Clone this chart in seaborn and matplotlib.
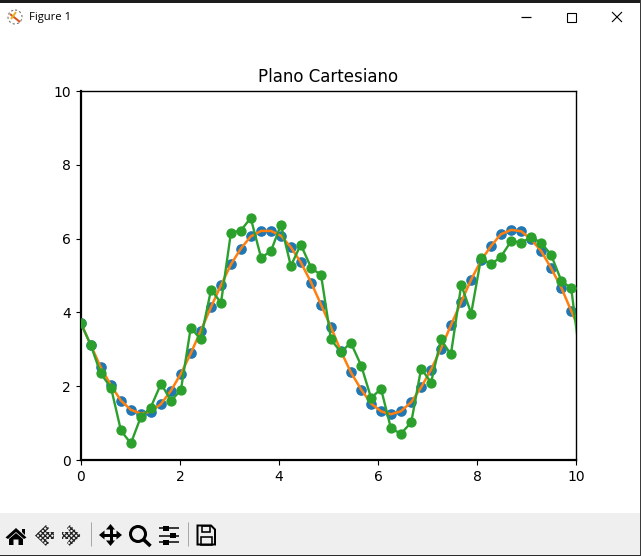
# libraries
import matplotlib
matplotlib.use("Agg")
import matplotlib.pyplot as plt
import matplotlib.patches as mp
import seaborn as sns
import pandas as pd

x_vals = [0.00, 0.20, 0.40, 0.61, 0.81, 1.01, 1.21, 1.41, 1.62, 1.82,
          2.02, 2.22, 2.42, 2.63, 2.83, 3.03, 3.23, 3.43, 3.64, 3.84,
          4.04, 4.24, 4.44, 4.65, 4.85, 5.05, 5.25, 5.45, 5.66, 5.86,
          6.06, 6.26, 6.46, 6.67, 6.87, 7.07, 7.27, 7.47, 7.68, 7.88,
          8.08, 8.28, 8.48, 8.69, 8.89, 9.09, 9.29, 9.49, 9.70, 9.90,
          10.14]
curve_vals = [3.72, 3.12, 2.52, 2.02, 1.61, 1.36, 1.26, 1.31, 1.52, 1.88,
              2.34, 2.89, 3.50, 4.15, 4.74, 5.30, 5.73, 6.06, 6.21, 6.21,
              6.08, 5.77, 5.36, 4.81, 4.21, 3.60, 2.95, 2.38, 1.91, 1.53,
              1.32, 1.24, 1.32, 1.57, 1.97, 2.45, 3.02, 3.65, 4.29, 4.89,
              5.41, 5.80, 6.12, 6.24, 6.20, 5.98, 5.67, 5.21, 4.67, 4.04,
              3.30]
noisy_vals = [3.71, 3.12, 2.35, 1.96, 0.80, 0.45, 1.16, 1.42, 2.07, 1.61,
              1.89, 3.59, 3.27, 4.62, 4.26, 6.16, 6.22, 6.56, 5.48, 5.67,
              6.38, 5.26, 5.84, 5.21, 5.01, 3.27, 2.92, 3.18, 2.56, 1.68,
              1.93, 0.86, 0.71, 1.02, 2.48, 2.10, 3.27, 2.86, 4.75, 3.97,
              5.48, 5.30, 5.51, 5.94, 5.89, 6.04, 5.89, 5.57, 4.86, 4.65,
              2.10]
title_text = "Plano Cartesiano"
window_text = "Figure 1"

sns.set_style("ticks")
plt.rcParams["font.family"] = ["DejaVu Sans"]
plt.rcParams["text.color"] = "black"
plt.rcParams["xtick.color"] = "black"
plt.rcParams["ytick.color"] = "black"
plt.rcParams["axes.edgecolor"] = "black"
plt.rcParams["hatch.linewidth"] = 0.9

W, H = 641, 556
fig = plt.figure(figsize=(W / 100, H / 100), dpi=100, facecolor="white")

# window chrome, in pixel coordinates
win = fig.add_axes([0, 0, 1, 1], zorder=0)
win.set_xlim(0, W)
win.set_ylim(H, 0)
win.axis("off")
px = 0.72  # one pixel in points


def box(x0, y0, x1, y1, **kw):
    win.add_patch(mp.Rectangle((x0, y0), x1 - x0, y1 - y0, linewidth=kw.pop("lw", 0), **kw))


def poly(pts, color="black", **kw):
    win.add_patch(mp.Polygon(pts, closed=True, facecolor=color, edgecolor="none", **kw))


def seg(xs, ys, lw=1, color="black", **kw):
    win.plot(xs, ys, color=color, linewidth=lw * px, solid_capstyle="butt", **kw)


box(0, 513, W, 555, facecolor="#efefef")
box(0, 0, W, 3, facecolor="#1c1c1c")
box(0, 555, W, H, facecolor="#2b2b2b")
box(640, 0, W, H, facecolor="#3a3a3a")

# title bar
win.add_patch(mp.Circle((15, 17), 7, fill=False, edgecolor="#777777", linewidth=0.8, linestyle=(0, (2, 2))))
seg([10, 20], [14, 22], lw=2, color="#d9541e")
seg([11, 16], [19, 12], lw=2, color="#e8b020")
win.text(29, 17.5, window_text, fontsize=8.1, family="Open Sans", color="black", va="center", ha="left")
seg([521, 531], [17, 17], lw=1.2)
win.add_patch(mp.Rectangle((566.5, 12.5), 9, 9, fill=False, edgecolor="black", linewidth=1.1 * px))
seg([612, 622], [12, 22], lw=1.1)
seg([612, 622], [22, 12], lw=1.1)

# toolbar icons
poly([(16, 528), (26.5, 537.5), (24, 539), (16, 532), (8, 539), (5.5, 537.5)])
poly([(9, 539), (16, 533), (23, 539), (23, 545), (18.5, 545), (18.5, 539.5), (13.5, 539.5), (13.5, 545), (9, 545)])
poly([(22, 529), (25, 529), (25, 535), (22, 532)])
# greyed arrows are dithered in the toolbar, hatch gets close to that
for pts in ([(46, 525), (49, 528), (46, 532), (54, 532), (54, 539), (46, 539), (49, 543), (46, 546), (35, 535.5)],
            [(70, 525), (67, 528), (70, 532), (62, 532), (62, 539), (70, 539), (67, 543), (70, 546), (81, 535.5)]):
    win.add_patch(mp.Polygon(pts, closed=True, facecolor="#efefef", edgecolor="#222222", linewidth=0, hatch="xxxxxxx"))
seg([90.5, 90.5], [522, 546], lw=1, color="#a8a8a8")
seg([187.5, 187.5], [522, 546], lw=1, color="#a8a8a8")
seg([103, 118], [535, 535], lw=3)
seg([110.5, 110.5], [528, 542], lw=3)
poly([(110.5, 524), (115, 529.5), (106, 529.5)])
poly([(110.5, 546), (115, 540.5), (106, 540.5)])
poly([(99, 535), (104.5, 530.5), (104.5, 539.5)])
poly([(122, 535), (116.5, 530.5), (116.5, 539.5)])
win.add_patch(mp.Circle((138, 534), 7.5, fill=False, edgecolor="black", linewidth=3 * px))
seg([143.5, 150.5], [539.5, 546], lw=3.5)
for yy, xx in zip([528, 535.5, 542], [166, 173, 166]):
    seg([159, 179], [yy, yy], lw=1.5)
    box(xx - 3, yy - 2.5, xx + 3, yy + 2.5, facecolor="black")
win.add_patch(mp.Polygon([(197.5, 525.5), (211, 525.5), (215, 529.5), (215, 544.5), (197.5, 544.5)],
                         closed=True, fill=False, edgecolor="black", linewidth=2 * px))
win.add_patch(mp.Rectangle((201.5, 526), 8, 6, fill=False, edgecolor="black", linewidth=1.6 * px))
win.add_patch(mp.Rectangle((201, 537), 10.5, 7.5, fill=False, edgecolor="black", linewidth=1.6 * px))

# plot area
df = pd.DataFrame({"x": x_vals, "curve": curve_vals, "noisy": noisy_vals})
ax = fig.add_axes([80.8 / W, (H - 460) / H, 495.4 / W, 368.9 / H], zorder=1)
ax.patch.set_alpha(0)

sns.scatterplot(data=df, x="x", y="curve", s=44, color="#1f77b4", edgecolor="#1f77b4", linewidth=1, ax=ax, zorder=2)
sns.lineplot(data=df, x="x", y="curve", color="#ff7f0e", linewidth=1.8, errorbar=None, ax=ax, zorder=3)
sns.lineplot(data=df, x="x", y="noisy", color="#2ca02c", linewidth=1.7, marker="o", markersize=6.4,
             markeredgecolor="#2ca02c", markeredgewidth=1, errorbar=None, ax=ax, zorder=4)

ax.set_xlim(0, 10)
ax.set_ylim(0, 10)
ax.set_xticks([0, 2, 4, 6, 8, 10])
ax.set_yticks([0, 2, 4, 6, 8, 10])
ax.set_xlabel("")
ax.set_ylabel("")
ax.tick_params(labelsize=10, length=3.5, width=0.8)
ax.set_title(title_text, fontsize=12, pad=6.5)
for side, lw in zip(["left", "bottom", "top", "right"], [1.6, 1.6, 1.0, 1.0]):
    ax.spines[side].set_linewidth(lw)
    ax.spines[side].set_visible(True)

plt.savefig("out.png", dpi=100, facecolor="white")
